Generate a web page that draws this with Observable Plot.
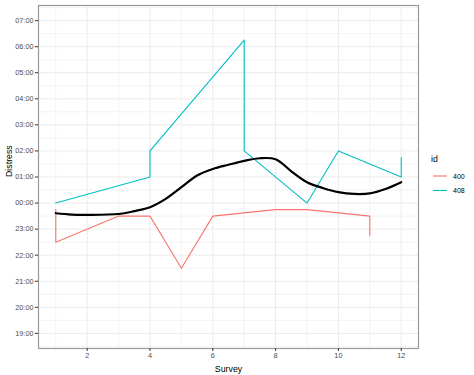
<!DOCTYPE html>
<html>
<head>
<meta charset="utf-8">
<script src="https://cdn.jsdelivr.net/npm/d3@7"></script>
<script src="https://cdn.jsdelivr.net/npm/@observablehq/plot@0.6"></script>
<style>
  html, body { margin: 0; padding: 0; background: #fff; }
  #chart { width: 474px; height: 375px; }
</style>
</head>
<body>
<div id="chart"></div>
<script>
// ---- data (hours relative to midnight: 0 = 00:00, -1 = 23:00) ----
const ids = ["400", "408"];
const survey400 = [1, 1, 3, 4, 5, 6, 8, 9, 11, 11];
const distress400 = [-0.25, -1.5, -0.5, -0.5, -2.5, -0.5, -0.25, -0.25, -0.5, -1.25];
const survey408 = [1, 4, 4, 7, 7, 9, 10, 12, 12];
const distress408 = [0, 1, 2, 6.25, 2, 0, 2, 1, 1.75];
const smoothSurvey = [1, 1.5, 2, 3, 3.5, 4, 4.5, 5, 5.5, 6, 6.5, 7, 7.5, 8, 8.5, 9, 9.5, 10, 10.5, 11, 11.5, 12];
const smoothDistress = [-0.39, -0.44, -0.45, -0.42, -0.31, -0.16, 0.16, 0.61, 1.06, 1.31, 1.47, 1.62, 1.72, 1.68, 1.22, 0.80, 0.58, 0.42, 0.35, 0.37, 0.54, 0.80];
const xTicks = [2, 4, 6, 8, 10, 12];
const xMinor = [1, 3, 5, 7, 9, 11];
const yTicks = [-5, -4, -3, -2, -1, 0, 1, 2, 3, 4, 5, 6, 7];
const yMinor = [-5.5, -4.5, -3.5, -2.5, -1.5, -0.5, 0.5, 1.5, 2.5, 3.5, 4.5, 5.5, 6.5, 7.5];
const colors = ["#F8766D", "#00BFC4"];

const rows = [
  ...survey400.map((s, i) => ({id: ids[0], survey: s, distress: distress400[i]})),
  ...survey408.map((s, i) => ({id: ids[1], survey: s, distress: distress408[i]}))
];
const smooth = smoothSurvey.map((s, i) => ({survey: s, distress: smoothDistress[i]}));

const fmt = h => String(((h % 24) + 24) % 24).padStart(2, "0") + ":00";
const grid = "#ebebeb";

const plot = Plot.plot({
  width: 474,
  height: 375,
  marginLeft: 38,
  marginRight: 56,
  marginTop: 5,
  marginBottom: 27,
  style: {fontFamily: "'Liberation Sans', Arial, sans-serif", background: "#fff"},
  x: {domain: [0.45, 12.55], label: null},
  y: {domain: [-5.58, 7.58], label: null},
  color: {domain: ids, range: colors},
  marks: [
    Plot.gridX(xMinor, {stroke: grid, strokeOpacity: 1, strokeWidth: 0.6}),
    Plot.gridY(yMinor, {stroke: grid, strokeOpacity: 1, strokeWidth: 0.6}),
    Plot.gridX(xTicks, {stroke: grid, strokeOpacity: 1, strokeWidth: 1}),
    Plot.gridY(yTicks, {stroke: grid, strokeOpacity: 1, strokeWidth: 1}),
    Plot.line(rows, {x: "survey", y: "distress", z: "id", stroke: "id", strokeWidth: 1.1}),
    Plot.line(smooth, {x: "survey", y: "distress", stroke: "#000", strokeWidth: 2.2, curve: "catmull-rom"}),
    Plot.frame({stroke: "#999", strokeWidth: 1.2}),
    Plot.axisX(xTicks, {tickSize: 3, tickPadding: 1.5, fontSize: 7.3, color: "#4d4d4d", stroke: "#333", label: null}),
    Plot.axisY(yTicks, {tickSize: 3, tickPadding: 2, fontSize: 7.3, color: "#4d4d4d", stroke: "#333", tickFormat: fmt, label: null}),
    Plot.text(["Survey"], {frameAnchor: "bottom", dy: 23, lineAnchor: "bottom", fontSize: 8.8, fill: "#000"}),
    Plot.text(["Distress"], {frameAnchor: "left", dx: -29, rotate: -90, fontSize: 8.8, fill: "#000"})
  ]
});

const svg = d3.select(plot);
const colorScale = plot.scale("color");
const lg = svg.append("g")
  .attr("font-family", "'Liberation Sans', Arial, sans-serif")
  .attr("text-anchor", "start")
  .attr("font-weight", "normal");
lg.append("text").attr("x", 431).attr("y", 162).attr("font-size", 8.8).attr("fill", "#000").text("id");
ids.forEach((id, i) => {
  const y = 176 + i * 14.5;
  lg.append("line").attr("x1", 433).attr("x2", 447).attr("y1", y).attr("y2", y)
    .attr("stroke", colorScale.apply(id)).attr("stroke-width", 1.1);
  lg.append("text").attr("x", 453).attr("y", y + 2.5).attr("font-size", 7).attr("fill", "#000").text(id);
});

document.getElementById("chart").appendChild(plot);
</script>
</body>
</html>
